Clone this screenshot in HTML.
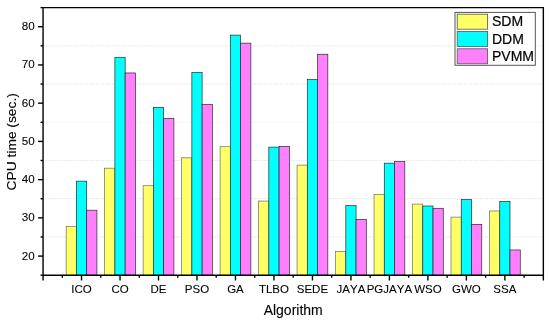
<!DOCTYPE html><html><head><meta charset="utf-8"><title>CPU time</title>
<style>html,body{margin:0;padding:0;background:#fff}svg{display:block}text{font-family:"Liberation Sans",Arial,sans-serif;fill:#000;stroke:#000;stroke-width:0.1px;font-kerning:none}.t{stroke-width:0.08px}.l{stroke-width:0.2px}</style></head><body>
<svg width="550" height="322" viewBox="0 0 550 322">
<rect width="550" height="322" fill="#fff"/>
<line x1="43.05" x2="543.35" y1="236.97" y2="236.97" stroke="#dadada" stroke-width="0.8" stroke-dasharray="1.2 1.1"/>
<line x1="43.05" x2="543.35" y1="198.74" y2="198.74" stroke="#d8d8d8" stroke-width="0.8" stroke-dasharray="1.2 1.1"/>
<line x1="43.05" x2="543.35" y1="160.51" y2="160.51" stroke="#dddddd" stroke-width="0.8" stroke-dasharray="1.2 1.1"/>
<line x1="43.05" x2="543.35" y1="122.29" y2="122.29" stroke="#eeeeee" stroke-width="0.8" stroke-dasharray="1.2 1.1"/>
<line x1="43.05" x2="543.35" y1="84.06" y2="84.06" stroke="#d8d8d8" stroke-width="0.8" stroke-dasharray="1.2 1.1"/>
<line x1="43.05" x2="543.35" y1="45.83" y2="45.83" stroke="#d8d8d8" stroke-width="0.8" stroke-dasharray="1.2 1.1"/>
<rect x="66.14" y="226.27" width="10.26" height="48.93" fill="#FFFF66" stroke="#555" stroke-width="0.6"/>
<rect x="76.40" y="181.16" width="10.26" height="94.04" fill="#00FFFF" stroke="#2a2a2a" stroke-width="0.7"/>
<rect x="86.67" y="210.21" width="10.26" height="64.99" fill="#FF80FF" stroke="#2a2a2a" stroke-width="0.7"/>
<rect x="104.63" y="168.16" width="10.26" height="107.04" fill="#FFFF66" stroke="#555" stroke-width="0.6"/>
<rect x="114.89" y="57.30" width="10.26" height="217.90" fill="#00FFFF" stroke="#2a2a2a" stroke-width="0.7"/>
<rect x="125.15" y="72.97" width="10.26" height="202.23" fill="#FF80FF" stroke="#2a2a2a" stroke-width="0.7"/>
<rect x="143.11" y="185.75" width="10.26" height="89.45" fill="#FFFF66" stroke="#555" stroke-width="0.6"/>
<rect x="153.37" y="107.38" width="10.26" height="167.82" fill="#00FFFF" stroke="#2a2a2a" stroke-width="0.7"/>
<rect x="163.64" y="118.46" width="10.26" height="156.74" fill="#FF80FF" stroke="#2a2a2a" stroke-width="0.7"/>
<rect x="181.59" y="157.84" width="10.26" height="117.36" fill="#FFFF66" stroke="#555" stroke-width="0.6"/>
<rect x="191.86" y="72.59" width="10.26" height="202.61" fill="#00FFFF" stroke="#2a2a2a" stroke-width="0.7"/>
<rect x="202.12" y="104.32" width="10.26" height="170.88" fill="#FF80FF" stroke="#2a2a2a" stroke-width="0.7"/>
<rect x="220.08" y="146.75" width="10.26" height="128.45" fill="#FFFF66" stroke="#555" stroke-width="0.6"/>
<rect x="230.34" y="35.12" width="10.26" height="240.08" fill="#00FFFF" stroke="#2a2a2a" stroke-width="0.7"/>
<rect x="240.60" y="43.15" width="10.26" height="232.05" fill="#FF80FF" stroke="#2a2a2a" stroke-width="0.7"/>
<rect x="258.56" y="201.04" width="10.26" height="74.16" fill="#FFFF66" stroke="#555" stroke-width="0.6"/>
<rect x="268.83" y="147.13" width="10.26" height="128.07" fill="#00FFFF" stroke="#2a2a2a" stroke-width="0.7"/>
<rect x="279.09" y="146.37" width="10.26" height="128.83" fill="#FF80FF" stroke="#2a2a2a" stroke-width="0.7"/>
<rect x="297.05" y="165.10" width="10.26" height="110.10" fill="#FFFF66" stroke="#555" stroke-width="0.6"/>
<rect x="307.31" y="79.47" width="10.26" height="195.73" fill="#00FFFF" stroke="#2a2a2a" stroke-width="0.7"/>
<rect x="317.57" y="54.24" width="10.26" height="220.96" fill="#FF80FF" stroke="#2a2a2a" stroke-width="0.7"/>
<rect x="335.53" y="251.50" width="10.26" height="23.70" fill="#FFFF66" stroke="#555" stroke-width="0.6"/>
<rect x="345.80" y="205.62" width="10.26" height="69.58" fill="#00FFFF" stroke="#2a2a2a" stroke-width="0.7"/>
<rect x="356.06" y="219.39" width="10.26" height="55.81" fill="#FF80FF" stroke="#2a2a2a" stroke-width="0.7"/>
<rect x="374.02" y="194.54" width="10.26" height="80.66" fill="#FFFF66" stroke="#555" stroke-width="0.6"/>
<rect x="384.28" y="163.19" width="10.26" height="112.01" fill="#00FFFF" stroke="#2a2a2a" stroke-width="0.7"/>
<rect x="394.54" y="161.47" width="10.26" height="113.73" fill="#FF80FF" stroke="#2a2a2a" stroke-width="0.7"/>
<rect x="412.50" y="204.09" width="10.26" height="71.11" fill="#FFFF66" stroke="#555" stroke-width="0.6"/>
<rect x="422.76" y="206.01" width="10.26" height="69.19" fill="#00FFFF" stroke="#2a2a2a" stroke-width="0.7"/>
<rect x="433.03" y="208.30" width="10.26" height="66.90" fill="#FF80FF" stroke="#2a2a2a" stroke-width="0.7"/>
<rect x="450.99" y="217.09" width="10.26" height="58.11" fill="#FFFF66" stroke="#555" stroke-width="0.6"/>
<rect x="461.25" y="199.51" width="10.26" height="75.69" fill="#00FFFF" stroke="#2a2a2a" stroke-width="0.7"/>
<rect x="471.51" y="224.36" width="10.26" height="50.84" fill="#FF80FF" stroke="#2a2a2a" stroke-width="0.7"/>
<rect x="489.47" y="210.98" width="10.26" height="64.22" fill="#FFFF66" stroke="#555" stroke-width="0.6"/>
<rect x="499.73" y="201.42" width="10.26" height="73.78" fill="#00FFFF" stroke="#2a2a2a" stroke-width="0.7"/>
<rect x="510.00" y="249.97" width="10.26" height="25.23" fill="#FF80FF" stroke="#2a2a2a" stroke-width="0.7"/>
<path d="M43.05 275.2V7.6H543.35V275.2H43.05" fill="none" stroke="#000" stroke-width="1.4" stroke-linecap="square"/>
<line x1="38.05" x2="43.05" y1="256.09" y2="256.09" stroke="#000" stroke-width="1.4"/>
<text class="t" x="34.6" y="259.59" font-size="11.6" text-anchor="end">20</text>
<line x1="38.05" x2="43.05" y1="217.86" y2="217.86" stroke="#000" stroke-width="1.4"/>
<text class="t" x="34.6" y="221.36" font-size="11.6" text-anchor="end">30</text>
<line x1="38.05" x2="43.05" y1="179.63" y2="179.63" stroke="#000" stroke-width="1.4"/>
<text class="t" x="34.6" y="183.13" font-size="11.6" text-anchor="end">40</text>
<line x1="38.05" x2="43.05" y1="141.40" y2="141.40" stroke="#000" stroke-width="1.4"/>
<text class="t" x="34.6" y="144.90" font-size="11.6" text-anchor="end">50</text>
<line x1="38.05" x2="43.05" y1="103.17" y2="103.17" stroke="#000" stroke-width="1.4"/>
<text class="t" x="34.6" y="106.67" font-size="11.6" text-anchor="end">60</text>
<line x1="38.05" x2="43.05" y1="64.94" y2="64.94" stroke="#000" stroke-width="1.4"/>
<text class="t" x="34.6" y="68.44" font-size="11.6" text-anchor="end">70</text>
<line x1="38.05" x2="43.05" y1="26.71" y2="26.71" stroke="#000" stroke-width="1.4"/>
<text class="t" x="34.6" y="30.21" font-size="11.6" text-anchor="end">80</text>
<line x1="40.55" x2="43.05" y1="275.20" y2="275.20" stroke="#000" stroke-width="1.4"/>
<line x1="40.55" x2="43.05" y1="236.97" y2="236.97" stroke="#000" stroke-width="1.4"/>
<line x1="40.55" x2="43.05" y1="198.74" y2="198.74" stroke="#000" stroke-width="1.4"/>
<line x1="40.55" x2="43.05" y1="160.51" y2="160.51" stroke="#000" stroke-width="1.4"/>
<line x1="40.55" x2="43.05" y1="122.29" y2="122.29" stroke="#000" stroke-width="1.4"/>
<line x1="40.55" x2="43.05" y1="84.06" y2="84.06" stroke="#000" stroke-width="1.4"/>
<line x1="40.55" x2="43.05" y1="45.83" y2="45.83" stroke="#000" stroke-width="1.4"/>
<line x1="40.55" x2="43.05" y1="7.60" y2="7.60" stroke="#000" stroke-width="1.4"/>
<line x1="43.05" x2="43.05" y1="275.2" y2="280.5" stroke="#000" stroke-width="1.4"/>
<line x1="62.29" x2="62.29" y1="275.2" y2="277.7" stroke="#000" stroke-width="1.4"/>
<line x1="81.53" x2="81.53" y1="275.2" y2="280.5" stroke="#000" stroke-width="1.4"/>
<line x1="100.78" x2="100.78" y1="275.2" y2="277.7" stroke="#000" stroke-width="1.4"/>
<line x1="120.02" x2="120.02" y1="275.2" y2="280.5" stroke="#000" stroke-width="1.4"/>
<line x1="139.26" x2="139.26" y1="275.2" y2="277.7" stroke="#000" stroke-width="1.4"/>
<line x1="158.50" x2="158.50" y1="275.2" y2="280.5" stroke="#000" stroke-width="1.4"/>
<line x1="177.75" x2="177.75" y1="275.2" y2="277.7" stroke="#000" stroke-width="1.4"/>
<line x1="196.99" x2="196.99" y1="275.2" y2="280.5" stroke="#000" stroke-width="1.4"/>
<line x1="216.23" x2="216.23" y1="275.2" y2="277.7" stroke="#000" stroke-width="1.4"/>
<line x1="235.47" x2="235.47" y1="275.2" y2="280.5" stroke="#000" stroke-width="1.4"/>
<line x1="254.72" x2="254.72" y1="275.2" y2="277.7" stroke="#000" stroke-width="1.4"/>
<line x1="273.96" x2="273.96" y1="275.2" y2="280.5" stroke="#000" stroke-width="1.4"/>
<line x1="293.20" x2="293.20" y1="275.2" y2="277.7" stroke="#000" stroke-width="1.4"/>
<line x1="312.44" x2="312.44" y1="275.2" y2="280.5" stroke="#000" stroke-width="1.4"/>
<line x1="331.68" x2="331.68" y1="275.2" y2="277.7" stroke="#000" stroke-width="1.4"/>
<line x1="350.93" x2="350.93" y1="275.2" y2="280.5" stroke="#000" stroke-width="1.4"/>
<line x1="370.17" x2="370.17" y1="275.2" y2="277.7" stroke="#000" stroke-width="1.4"/>
<line x1="389.41" x2="389.41" y1="275.2" y2="280.5" stroke="#000" stroke-width="1.4"/>
<line x1="408.65" x2="408.65" y1="275.2" y2="277.7" stroke="#000" stroke-width="1.4"/>
<line x1="427.90" x2="427.90" y1="275.2" y2="280.5" stroke="#000" stroke-width="1.4"/>
<line x1="447.14" x2="447.14" y1="275.2" y2="277.7" stroke="#000" stroke-width="1.4"/>
<line x1="466.38" x2="466.38" y1="275.2" y2="280.5" stroke="#000" stroke-width="1.4"/>
<line x1="485.62" x2="485.62" y1="275.2" y2="277.7" stroke="#000" stroke-width="1.4"/>
<line x1="504.87" x2="504.87" y1="275.2" y2="280.5" stroke="#000" stroke-width="1.4"/>
<line x1="524.11" x2="524.11" y1="275.2" y2="277.7" stroke="#000" stroke-width="1.4"/>
<line x1="543.35" x2="543.35" y1="275.2" y2="280.5" stroke="#000" stroke-width="1.4"/>
<text class="t" x="81.53" y="293.3" font-size="11.5" text-anchor="middle">ICO</text>
<text class="t" x="120.02" y="293.3" font-size="11.5" text-anchor="middle">CO</text>
<text class="t" x="158.50" y="293.3" font-size="11.5" text-anchor="middle">DE</text>
<text class="t" x="196.99" y="293.3" font-size="11.5" text-anchor="middle">PSO</text>
<text class="t" x="235.47" y="293.3" font-size="11.5" text-anchor="middle">GA</text>
<text class="t" x="273.96" y="293.3" font-size="11.5" text-anchor="middle">TLBO</text>
<text class="t" x="312.44" y="293.3" font-size="11.5" text-anchor="middle">SEDE</text>
<text class="t" x="350.93" y="293.3" font-size="11.5" text-anchor="middle">JAYA</text>
<text class="t" x="389.41" y="293.3" font-size="11.5" text-anchor="middle">PGJAYA</text>
<text class="t" x="427.90" y="293.3" font-size="11.5" text-anchor="middle">WSO</text>
<text class="t" x="466.38" y="293.3" font-size="11.5" text-anchor="middle">GWO</text>
<text class="t" x="504.87" y="293.3" font-size="11.5" text-anchor="middle">SSA</text>
<text x="293.20" y="314.5" font-size="14" text-anchor="middle">Algorithm</text>
<text transform="translate(15.5 141.8) rotate(-90) scale(1 0.94)" font-size="13.8" text-anchor="middle">CPU time (sec.)</text>
<rect x="455" y="12.4" width="80.3" height="52.9" fill="#fff" stroke="#555" stroke-width="1"/>
<rect x="457.2" y="14.20" width="30.4" height="15" fill="#FFFF66" stroke="#555" stroke-width="0.8"/>
<text class="l" x="492" y="26.30" font-size="14">SDM</text>
<rect x="457.2" y="31.50" width="30.4" height="15" fill="#00FFFF" stroke="#555" stroke-width="0.8"/>
<text class="l" x="492" y="43.60" font-size="14">DDM</text>
<rect x="457.2" y="48.80" width="30.4" height="15" fill="#FF80FF" stroke="#555" stroke-width="0.8"/>
<text class="l" x="492" y="60.90" font-size="14">PVMM</text>
</svg></body></html>
